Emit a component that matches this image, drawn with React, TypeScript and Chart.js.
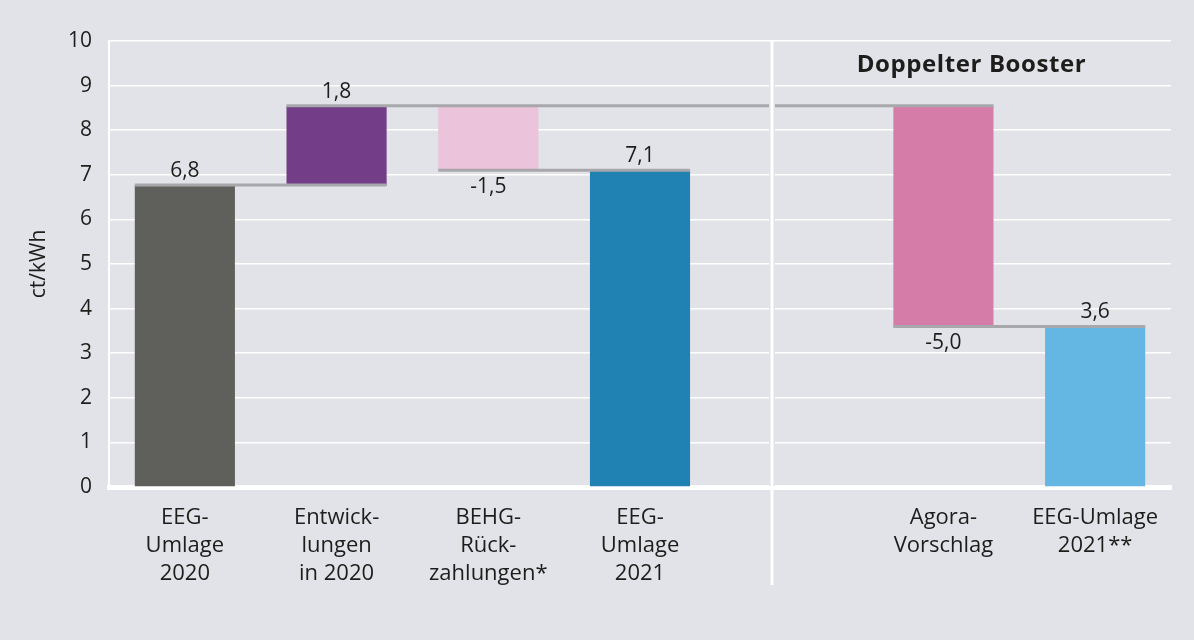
import React, { useEffect, useRef } from 'react';
import { Chart, registerables } from 'chart.js';

Chart.register(...registerables);

const categories = [
  ['EEG-', 'Umlage', '2020'],
  ['Entwick-', 'lungen', 'in 2020'],
  ['BEHG-', 'Rück-', 'zahlungen*'],
  ['EEG-', 'Umlage', '2021'],
  '',
  ['Agora-', 'Vorschlag'],
  ['EEG-Umlage', '2021**'],
];
const barStart = [0, 6.77, 7.1, 0, null, 3.6, 0];
const barEnd = [6.77, 8.55, 8.55, 7.1, null, 8.55, 3.6];
const changes = [6.8, 1.8, -1.5, 7.1, null, -5.0, 3.6];
const barColors = ['#5f605b', '#733d87', '#ebc3da', '#1f82b3', 'transparent', '#d57ca8', '#63b7e2'];
// pairs of bars joined by a grey level line (from left of first to right of second)
const connectors = [[0, 1], [1, 5], [2, 3], [5, 6]];
const sectionTitle = 'Doppelter Booster';
const yTitle = 'ct/kWh';

const BG = '#e2e3e8';
const FONT = "'Open Sans', sans-serif";
const TEXT = '#1d1d1b';

const fmt = (v: number) => v.toFixed(1).replace('.', ',');

const waterfallPlugin = {
  id: 'waterfall',
  beforeDraw(chart: any) {
    const { ctx, width, height } = chart;
    ctx.save();
    ctx.fillStyle = BG;
    ctx.fillRect(0, 0, width, height);
    ctx.restore();
  },
  afterDatasetsDraw(chart: any) {
    const { ctx, chartArea } = chart;
    const meta = chart.getDatasetMeta(0);
    const xs = chart.scales.x;
    const ys = chart.scales.y;

    // connector lines
    ctx.save();
    ctx.strokeStyle = '#a8a7ab';
    ctx.lineWidth = 3;
    connectors.forEach(([a, b]) => {
      const ea = meta.data[a];
      const eb = meta.data[b];
      const va = [barStart[a], barEnd[a]];
      const vb = [barStart[b], barEnd[b]];
      const level = va.find((v) => vb.includes(v));
      if (level == null) return;
      const y = ys.getPixelForValue(level);
      ctx.beginPath();
      ctx.moveTo(ea.x - ea.width / 2, y);
      ctx.lineTo(eb.x + eb.width / 2, y);
      ctx.stroke();
    });
    ctx.restore();

    // divider between the two sections
    const p3 = xs.getPixelForValue(3);
    const p4 = xs.getPixelForValue(4);
    const divX = p3 + 0.87 * (p4 - p3);
    ctx.save();
    ctx.strokeStyle = BG;
    ctx.lineWidth = 6;
    ctx.beginPath();
    ctx.moveTo(divX, chartArea.top + 2);
    ctx.lineTo(divX, chartArea.bottom - 1);
    ctx.stroke();
    ctx.strokeStyle = '#ffffff';
    ctx.lineWidth = 3;
    ctx.beginPath();
    ctx.moveTo(divX, chartArea.top);
    ctx.lineTo(divX, chartArea.bottom + 98);
    ctx.stroke();
    ctx.restore();

    // value labels
    ctx.save();
    ctx.fillStyle = TEXT;
    ctx.font = `21px ${FONT}`;
    ctx.textAlign = 'center';
    ctx.textBaseline = 'middle';
    changes.forEach((c, i) => {
      if (c == null) return;
      const el = meta.data[i];
      const y = c >= 0 ? ys.getPixelForValue(barEnd[i] as number) - 14 : ys.getPixelForValue(barStart[i] as number) + 17;
      ctx.fillText(fmt(c), el.x, y);
    });

    // section title
    ctx.font = `bold 24px ${FONT}`;
    (ctx as any).letterSpacing = '0.6px';
    ctx.fillText(sectionTitle, (divX + chartArea.right) / 2, chartArea.top + 24);
    ctx.restore();
  },
};

const App = () => {
  const chartRef = useRef<HTMLCanvasElement | null>(null);

  useEffect(() => {
    if (!chartRef.current) return;
    const chart = new Chart(chartRef.current, {
      type: 'bar',
      data: {
        labels: categories as any,
        datasets: [
          {
            data: barStart.map((s, i) => (s == null ? null : [s, barEnd[i]])) as any,
            backgroundColor: barColors,
            borderWidth: 0,
            categoryPercentage: 1,
            barPercentage: 0.66,
          },
        ],
      },
      options: {
        responsive: false,
        animation: false,
        layout: { padding: { top: 41, right: 23, left: 0, bottom: 0 } },
        plugins: {
          legend: { display: false },
          tooltip: { enabled: false },
        },
        scales: {
          x: {
            grid: { display: false, drawTicks: false },
            border: { display: true, color: '#ffffff', width: 5 },
            ticks: {
              color: TEXT,
              font: { family: FONT, size: 22, lineHeight: 1.27 },
              padding: 17,
              maxRotation: 0,
              autoSkip: false,
            },
            afterFit: (scale: any) => {
              scale.height = 153;
            },
          },
          y: {
            min: 0,
            max: 10,
            ticks: {
              stepSize: 1,
              color: TEXT,
              font: { family: FONT, size: 21 },
              padding: 17,
            },
            grid: { color: '#ffffff', lineWidth: 1.5, drawTicks: false },
            border: { display: true, color: '#ffffff', width: 2 },
            title: {
              display: true,
              text: yTitle,
              color: TEXT,
              font: { family: FONT, size: 21 },
              padding: { top: 26, bottom: 0 },
            },
            afterFit: (scale: any) => {
              scale.width = 109;
            },
          },
        },
      },
      plugins: [waterfallPlugin],
    });
    return () => {
      chart.destroy();
    };
  }, []);

  return (
    <div style={{ position: 'absolute', left: 0, top: 0, width: 1194, height: 640, background: BG }}>
      <canvas ref={chartRef} width={1194} height={640} style={{ display: 'block' }} />
    </div>
  );
};

export default App;
